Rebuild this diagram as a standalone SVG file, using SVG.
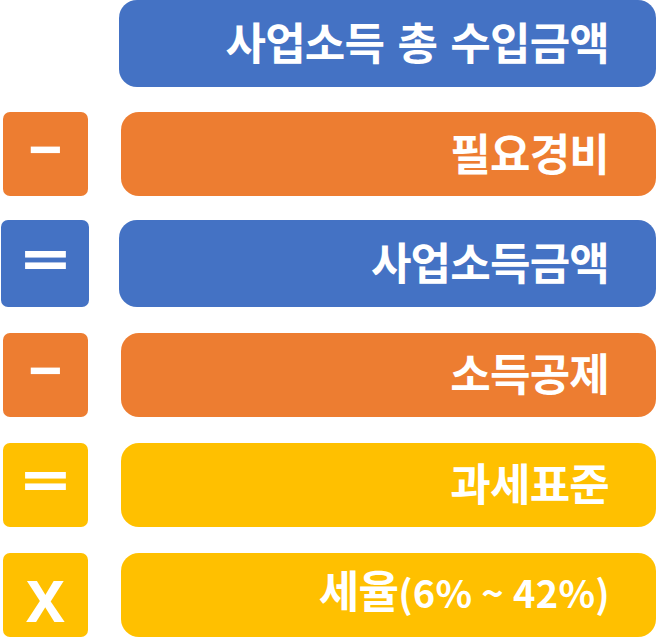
<svg xmlns="http://www.w3.org/2000/svg" width="660" height="640" viewBox="0 0 660 640">
<style>
.blue{fill:#4472C4}
.orange{fill:#ED7D31}
.yellow{fill:#FFC000}
.lbl{fill:#FFFFFF;font-family:"Noto Sans CJK KR","Noto Sans",sans-serif;font-weight:bold;font-size:44px;text-anchor:end;letter-spacing:-0.8px}
.lat{font-size:38px;letter-spacing:0.3px}
.sym{fill:#FFFFFF;font-family:"Noto Sans","DejaVu Sans",sans-serif;font-weight:bold;font-size:60px;text-anchor:middle}
</style>
<rect width="660" height="640" fill="#FFFFFF"/>
<g id="row1">
<rect class="blue" x="119" y="0" width="537" height="87" rx="18"/>
<text class="lbl" x="609" y="60" word-spacing="4">사업소득 총 수입금액</text>
</g>
<g id="op2">
<rect class="orange" x="3" y="112" width="85" height="84" rx="7"/>
<text class="sym" x="45.5" y="171">−</text>
</g>
<g id="row2">
<rect class="orange" x="121" y="112" width="535" height="84" rx="18"/>
<text class="lbl" x="609" y="171">필요경비</text>
</g>
<g id="op3">
<rect class="blue" x="1" y="220" width="88" height="87" rx="7"/>
<text class="sym" x="32.5" y="281" transform="scale(1.4,1)">=</text>
</g>
<g id="row3">
<rect class="blue" x="119" y="220" width="537" height="87" rx="18"/>
<text class="lbl" x="609" y="280">사업소득금액</text>
</g>
<g id="op4">
<rect class="orange" x="3" y="333" width="85" height="84" rx="7"/>
<text class="sym" x="45.5" y="392">−</text>
</g>
<g id="row4">
<rect class="orange" x="121" y="333" width="535" height="84" rx="18"/>
<text class="lbl" x="609" y="391">소득공제</text>
</g>
<g id="op5">
<rect class="yellow" x="3" y="443" width="85" height="84" rx="7"/>
<text class="sym" x="32.5" y="502" transform="scale(1.4,1)">=</text>
</g>
<g id="row5">
<rect class="yellow" x="121" y="443" width="535" height="84" rx="18"/>
<text class="lbl" x="609" y="501">과세표준</text>
</g>
<g id="op6">
<rect class="yellow" x="3" y="553" width="85" height="84" rx="7"/>
<text class="sym" x="45.5" y="622" style="font-size:58px">X</text>
</g>
<g id="row6">
<rect class="yellow" x="121" y="553" width="535" height="84" rx="18"/>
<text class="lbl" x="610" y="608">세율<tspan class="lat">(6% ~ 42%)</tspan></text>
</g>
<g id="connectors"></g>
</svg>
